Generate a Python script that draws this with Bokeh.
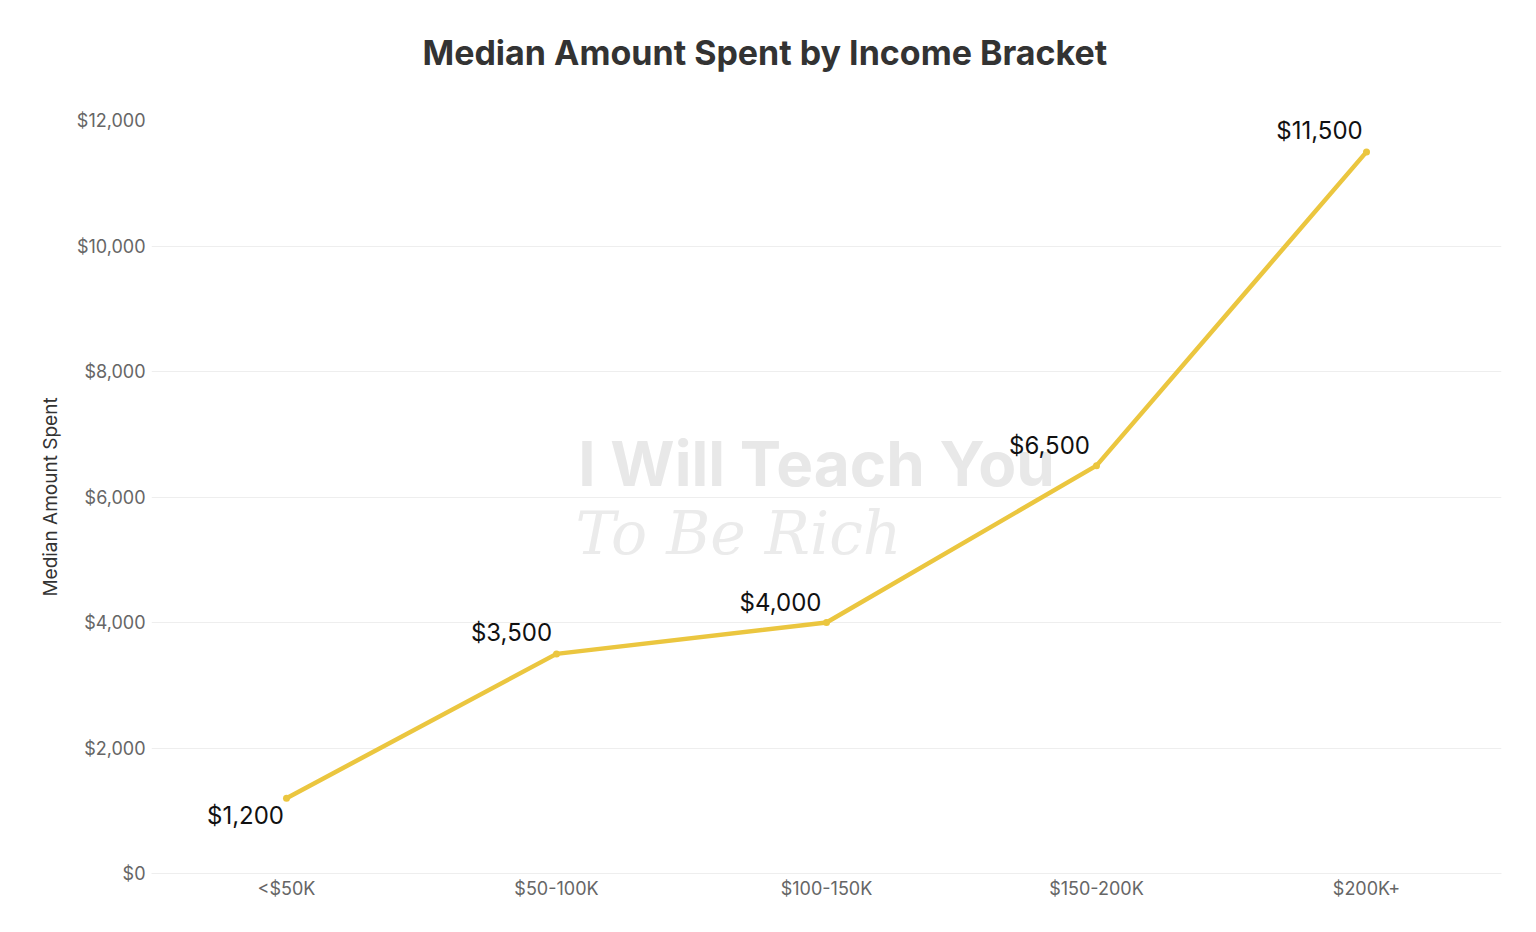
from bokeh.plotting import figure
from bokeh.models import ColumnDataSource, FixedTicker, NumeralTickFormatter, Label
from bokeh.core.properties import value
from bokeh.embed import file_html
from bokeh.resources import INLINE

# ---- data ----
brackets = ["<$50K", "$50-100K", "$100-150K", "$150-200K", "$200K+"]
median_spent = [1200, 3500, 4000, 6500, 11500]
value_labels = ["$1,200", "$3,500", "$4,000", "$6,500", "$11,500"]
y_ticks = [0, 2000, 4000, 6000, 8000, 10000, 12000]
title_text = "Median Amount Spent by Income Bracket"

# ---- style ----
FONT = "Inter"
LINE_COLOR = "#EBC63F"
label_dx = [-41, -45, -46, -47, -47]
label_dy = [17, -21, -20, -20, -21]

src = ColumnDataSource(dict(x=brackets, y=median_spent, t=value_labels,
                            dx=label_dx, dy=label_dy))

p = figure(x_range=brackets, y_range=(0, 12000), width=1528, height=901,
           output_backend="svg", toolbar_location=None,
           min_border_left=151, min_border_right=27, min_border_top=120,
           min_border_bottom=20)
p.outline_line_color = None
p.background_fill_color = "white"
p.border_fill_color = "white"

# title (trailing empty line lifts it away from the frame)
p.title.text = title_text + "\n"
p.title.text_font = FONT
p.title.text_font_style = "bold"
p.title.text_font_size = "34px"
p.title.text_color = "#333333"
p.title.align = "left"
p.title.offset = 271
p.title.vertical_align = "bottom"
p.title.standoff = 14

# grid
p.xgrid.grid_line_color = None
p.ygrid.grid_line_color = "#eeeeee"
p.ygrid.grid_line_width = 1

# axes
p.yaxis.ticker = FixedTicker(ticks=y_ticks)
p.yaxis.formatter = NumeralTickFormatter(format="$0,0")
p.yaxis.axis_line_color = None
p.yaxis.major_tick_line_color = None
p.yaxis.major_tick_out = 0
p.yaxis.minor_tick_line_color = None
p.yaxis.major_label_text_font = FONT
p.yaxis.major_label_text_font_size = "18px"
p.yaxis.major_label_text_color = "#666666"
p.yaxis.major_label_standoff = 6
p.yaxis.axis_label = "Median Amount Spent"
p.yaxis.axis_label_text_font = FONT
p.yaxis.axis_label_text_font_style = "normal"
p.yaxis.axis_label_text_font_size = "19px"
p.yaxis.axis_label_text_color = "#333333"
p.yaxis.axis_label_standoff = 12

p.xaxis.axis_line_color = "#eeeeee"
p.xaxis.major_tick_line_color = None
p.xaxis.major_tick_out = 0
p.xaxis.minor_tick_line_color = None
p.xaxis.major_label_text_font = FONT
p.xaxis.major_label_text_font_size = "18px"
p.xaxis.major_label_text_color = "#666666"
p.xaxis.major_label_standoff = 4

# watermark
p.add_layout(Label(x=2.5, y=6000, x_offset=-10, y_offset=34, text="I Will Teach You",
                   text_font=FONT, text_font_style="bold", text_font_size="62px",
                   text_color="#e8e8e8", text_align="center", text_baseline="middle",
                   level="underlay"))
p.add_layout(Label(x=2.5, y=6000, x_offset=-88, y_offset=-36, text="To Be Rich",
                   text_font="DejaVu Serif", text_font_style="italic", text_font_size="60px",
                   text_color="#ebebeb", text_align="center", text_baseline="middle",
                   level="underlay"))

# line + points
p.line("x", "y", source=src, line_color=LINE_COLOR, line_width=4.5)
p.scatter("x", "y", source=src, size=7, fill_color=LINE_COLOR, line_color=None)

# value labels
p.text("x", "y", text="t", source=src, x_offset="dx", y_offset="dy",
       text_font=value(FONT), text_font_size="24px", text_color="#111111",
       text_align="center", text_baseline="middle", text_font_style="normal")

open("out.html", "w").write(file_html(p, INLINE))
